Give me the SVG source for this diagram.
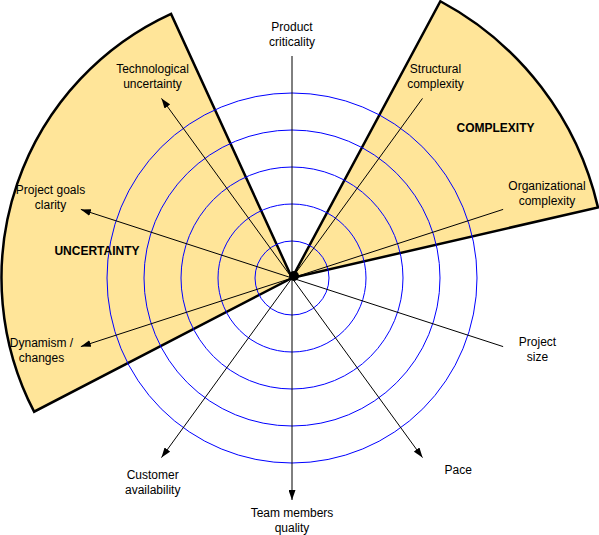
<svg xmlns="http://www.w3.org/2000/svg" width="599" height="535" viewBox="0 0 599 535">
<style>
.wedge{fill:#FFE599;stroke:#000;stroke-width:2.5;stroke-linejoin:miter}
.ring{fill:none;stroke:#0000FF;stroke-width:1}
.spoke{stroke:#000;stroke-width:1;fill:none}
.arr{marker-end:url(#ah)}
text{font-family:"Liberation Sans",Arial,sans-serif;font-size:12px;fill:#000;text-anchor:middle}
.bold{font-weight:bold}
</style>
<defs>
<marker id="ah" markerUnits="userSpaceOnUse" markerWidth="10" markerHeight="7" refX="10" refY="3.5" orient="auto">
<path d="M0,0 L10,3.5 L0,7 Z" fill="#000"/>
</marker>
</defs>
<rect width="599" height="535" fill="#fff"/>
<g id="uncertainty-zone">
<path class="wedge" d="M292,278 L34.09,411.69 A290.5,290.5 0 0 1 171.07,13.87 Z"/>
</g>
<g id="complexity-zone">
<path class="wedge" d="M292,278 L440.38,1.27 A314,314 0 0 1 597.95,207.37 Z"/>
</g>
<g id="rings">
<circle class="ring" cx="292" cy="278" r="37"/>
<circle class="ring" cx="292" cy="278" r="74"/>
<circle class="ring" cx="292" cy="278" r="111"/>
<circle class="ring" cx="292" cy="278" r="148"/>
<circle class="ring" cx="292" cy="278" r="185"/>
</g>
<g id="connectors">
<line class="spoke" x1="292" y1="278" x2="292" y2="56"/>
<line class="spoke" x1="292" y1="278" x2="422.49" y2="98.4"/>
<line class="spoke" x1="292" y1="278" x2="503.13" y2="209.4"/>
<line class="spoke" x1="292" y1="278" x2="503.13" y2="346.6"/>
<line class="spoke arr" x1="292" y1="278" x2="422.49" y2="457.6"/>
<line class="spoke arr" x1="292" y1="278" x2="292" y2="500"/>
<line class="spoke arr" x1="292" y1="278" x2="161.51" y2="457.6"/>
<line class="spoke arr" x1="292" y1="278" x2="80.87" y2="346.6"/>
<line class="spoke arr" x1="292" y1="278" x2="80.87" y2="209.4"/>
<line class="spoke arr" x1="292" y1="278" x2="161.51" y2="98.4"/>
<circle cx="294" cy="276" r="5" fill="#000"/>
</g>
<g id="product-criticality"><text x="292" y="30.5">Product</text><text x="292" y="45.5">criticality</text></g>
<g id="structural-complexity"><text x="435.5" y="73">Structural</text><text x="435.5" y="88">complexity</text></g>
<g id="complexity-label"><text class="bold" x="495.5" y="132">COMPLEXITY</text></g>
<g id="organizational-complexity"><text x="547" y="190">Organizational</text><text x="547" y="205">complexity</text></g>
<g id="project-size"><text x="537.5" y="346">Project</text><text x="537.5" y="361">size</text></g>
<g id="pace"><text x="458.3" y="474">Pace</text></g>
<g id="team-members-quality"><text x="292" y="517">Team members</text><text x="292" y="532">quality</text></g>
<g id="customer-availability"><text x="152.7" y="479">Customer</text><text x="152.7" y="494">availability</text></g>
<g id="dynamism-changes"><text x="41.5" y="347">Dynamism /</text><text x="41.5" y="362">changes</text></g>
<g id="uncertainty-label"><text class="bold" x="97" y="254.5">UNCERTAINTY</text></g>
<g id="project-goals-clarity"><text x="50.5" y="194">Project goals</text><text x="50.5" y="209">clarity</text></g>
<g id="technological-uncertainty"><text x="152.5" y="73">Technological</text><text x="152.5" y="88">uncertainty</text></g>
</svg>
